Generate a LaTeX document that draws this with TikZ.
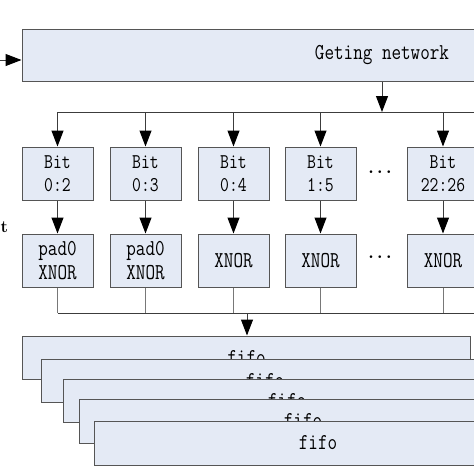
\documentclass[tikz,border=0pt]{standalone}
\usepackage{fontspec}
\usepackage{graphicx}
\usetikzlibrary{arrows.meta}
\definecolor{boxfill}{RGB}{228,234,245}
\definecolor{boxline}{RGB}{85,85,85}
\definecolor{wire}{RGB}{60,60,60}
\definecolor{wirelight}{RGB}{120,120,120}
\newcommand{\sst}[1]{\scalebox{1}[1.22]{#1}}
\tikzset{
  blk/.style={draw=boxline, fill=boxfill, line width=1pt, inner sep=0pt, align=center,
    font=\ttfamily\fontsize{18.6}{24}\selectfont},
  smallblk/.style={blk, minimum width=71pt, minimum height=53pt},
  bitblk/.style={smallblk, font=\ttfamily\fontsize{17.2}{23}\selectfont},
  fifoblk/.style={blk, minimum width=448pt, minimum height=43pt},
  arr/.style={draw=wire, line width=1pt, -{Triangle[length=16pt,width=12pt,color=black]}},
  wireln/.style={draw=wire, line width=1pt},
  lightwire/.style={draw=wirelight, line width=0.9pt},
  dotsnode/.style={font=\boldmath\fontsize{17}{18}\selectfont, inner sep=0pt},
}
\begin{document}
\begin{tikzpicture}[x=1pt,y=-1pt]
\useasboundingbox (0,0) rectangle (474,474);
\clip (0,0) rectangle (474,474);
% top box
\node[blk, minimum width=478pt, minimum height=52pt] (net) at (261,55) {};
\node[font=\ttfamily\fontsize{18.6}{24}\selectfont, inner sep=0pt] (nettext) at (382,55) {\sst{Geting network}};
\coordinate (in) at (-4,60);
\draw[arr] (in) -- (in -| net.west);
\node[font=\rmfamily\bfseries\fontsize{17}{18}\selectfont, inner sep=0pt, anchor=west] (tlab) at (0.5,227) {t};
% bit boxes
\node[bitblk] (b1) at (57.5,173.5) {\sst{Bit}\\\sst{0:2}};
\node[bitblk] (b2) at (145.5,173.5) {\sst{Bit}\\\sst{0:3}};
\node[bitblk] (b3) at (233.5,173.5) {\sst{Bit}\\\sst{0:4}};
\node[bitblk] (b4) at (320.5,173.5) {\sst{Bit}\\\sst{1:5}};
\node[bitblk] (b5) at (443,173.5) {\sst{Bit}\\\sst{22:26}};
\node[dotsnode] (d1) at (380,172) {$\cdots$};
% xnor boxes
\node[smallblk] (x1) at (57.5,260.5) {\sst{pad0}\\\sst{XNOR}};
\node[smallblk] (x2) at (145.5,260.5) {\sst{pad0}\\\sst{XNOR}};
\node[smallblk] (x3) at (233.5,260.5) {\sst{XNOR}};
\node[smallblk] (x4) at (320.5,260.5) {\sst{XNOR}};
\node[smallblk] (x5) at (443,260.5) {\sst{XNOR}};
\node[dotsnode] (d2) at (380,257) {$\cdots$};
% split bus
\coordinate (split) at (382,112);
\coordinate (busend) at (480,112);
\draw[arr] (split |- net.south) -- (split);
\draw[wireln] (b1.north |- split) -- (busend);
\foreach \i in {1,...,5} {
  \draw[arr] (b\i.north |- split) -- (b\i.north);
  \draw[arr] (b\i.south) -- (x\i.north);
}
% fifo stack
\node[fifoblk] (f1) at (246.5,357.5) {\sst{fifo}};
\node[fifoblk] (f2) at (265,380.5) {\sst{fifo}};
\node[fifoblk] (f3) at (287,400.5) {\sst{fifo}};
\node[fifoblk, minimum height=44pt] (f4) at (303,421) {\sst{fifo}};
\node[fifoblk, minimum height=44pt] (f5) at (318,443) {\sst{fifo}};
% join bus
\coordinate (join) at (247,313);
\coordinate (joinend) at (480,313);
\foreach \i in {1,...,5} {
  \draw[lightwire] (x\i.south) -- (x\i.south |- join);
}
\draw[wireln] (x1.south |- join) -- (joinend);
\draw[arr] (join) -- (join |- f1.north);
\end{tikzpicture}
\end{document}
